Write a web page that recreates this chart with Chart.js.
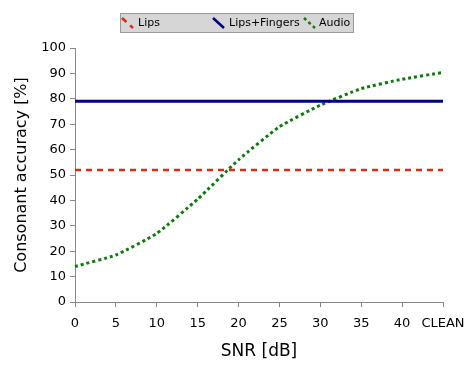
<!DOCTYPE html>
<html>
<head>
<meta charset="utf-8">
<script src="https://cdn.jsdelivr.net/npm/chart.js@4"></script>
<style>
  html, body { margin: 0; padding: 0; background: #fff; }
  #wrap { width: 474px; height: 366px; }
</style>
</head>
<body>
<div id="wrap"><canvas id="myChart"></canvas></div>
<script>
// SNR conditions
let snrLabels = ['0', '5', '10', '15', '20', '25', '30', '35', '40', 'CLEAN'];
let lipsAcc = [52, 52, 52, 52, 52, 52, 52, 52, 52, 52];
let lipsFingersAcc = [79, 79, 79, 79, 79, 79, 79, 79, 79, 79];
let audioAcc = [14, 18.5, 27, 40.5, 56, 69, 77.5, 84, 87.7, 90.4];

Chart.defaults.font.family = 'DejaVu Sans';
Chart.defaults.color = '#000';

// boxed legend with diagonal line icons, drawn on top
const boxLegend = {
    id: 'boxLegend',
    afterDraw(chart) {
        const ctx = chart.ctx;
        ctx.save();
        ctx.fillStyle = '#d6d6d6';
        ctx.strokeStyle = '#9a9a9a';
        ctx.lineWidth = 1;
        ctx.fillRect(120.5, 13.5, 233, 19);
        ctx.strokeRect(120.5, 13.5, 233, 19);
        const items = [
            { icon: 122, text: 138 },
            { icon: 213, text: 229 },
            { icon: 304, text: 319 }
        ];
        chart.data.datasets.forEach((ds, i) => {
            const it = items[i];
            ctx.strokeStyle = ds.borderColor;
            ctx.lineWidth = 2.5;
            ctx.setLineDash(ds.borderDash || []);
            ctx.beginPath();
            ctx.moveTo(it.icon, 18);
            ctx.lineTo(it.icon + 11, 28);
            ctx.stroke();
            ctx.setLineDash([]);
            ctx.fillStyle = '#000';
            ctx.font = '11px DejaVu Sans';
            ctx.textBaseline = 'middle';
            ctx.fillText(ds.label, it.text, 23.5);
        });
        ctx.restore();
    }
};

const ctx = document.getElementById('myChart').getContext('2d');
const myChart = new Chart(ctx, {
    type: 'line',
    data: {
        labels: snrLabels,
        datasets: [
            {
                label: 'Lips',
                data: lipsAcc,
                borderColor: '#dd2a10',
                borderWidth: 2.5,
                borderDash: [6, 5],
                pointRadius: 0,
                fill: false,
            },
            {
                label: 'Lips+Fingers',
                data: lipsFingersAcc,
                borderColor: '#000080',
                borderWidth: 3,
                pointRadius: 0,
                fill: false,
            },
            {
                label: 'Audio',
                data: audioAcc,
                borderColor: '#0d7a0d',
                borderWidth: 3,
                borderDash: [3, 3],
                pointRadius: 0,
                tension: 0.15,
                fill: false,
            },
        ]
    },
    options: {
        responsive: true,
        maintainAspectRatio: false,
        animation: false,
        layout: { padding: { left: 8, right: 31, top: 48, bottom: 0 } },
        plugins: {
            legend: { display: false },
            tooltip: { enabled: false }
        },
        scales: {
            x: {
                offset: false,
                grid: { drawOnChartArea: false, drawTicks: true, tickLength: 5, color: '#888' },
                border: { color: '#888' },
                ticks: { font: { size: 13 }, padding: 9, maxRotation: 0, autoSkip: false },
                title: { display: true, text: 'SNR [dB]', font: { size: 17 }, padding: { top: 0 } },
                afterFit(scale) { scale.height = 64; }
            },
            y: {
                min: 0,
                max: 100,
                ticks: { stepSize: 10, font: { size: 13 }, padding: 4 },
                grid: { drawOnChartArea: false, drawTicks: true, tickLength: 5, color: '#888' },
                border: { color: '#888' },
                title: { display: true, text: 'Consonant accuracy [%]', font: { size: 16 }, padding: { bottom: 4 } },
                afterFit(scale) { scale.width = 67; }
            }
        }
    },
    plugins: [boxLegend]
});
</script>
</body>
</html>
